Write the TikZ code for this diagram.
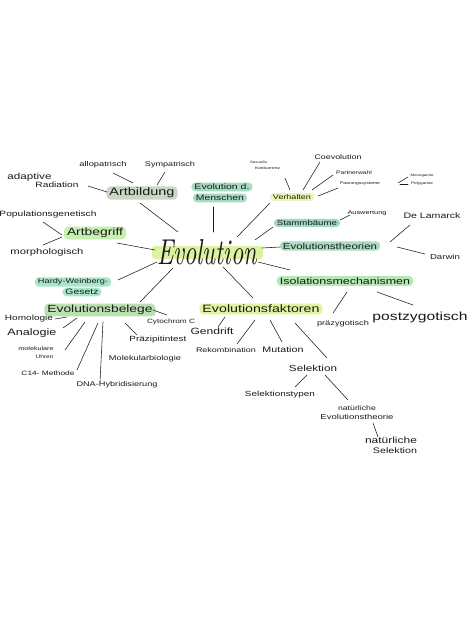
\documentclass[tikz,border=0pt]{standalone}
\usepackage{fontspec}
\usepackage{graphicx}
\newfontfamily\hand{Liberation Sans}
\usetikzlibrary{calc}
\newcommand\fw[2]{\resizebox{#1pt}{!}{\scalebox{1}[0.75]{#2}}}
\definecolor{ink}{HTML}{1A1A1A}
\definecolor{artbC}{HTML}{C9D8C2}
\definecolor{menC}{HTML}{A6DCC3}
\definecolor{verhC}{HTML}{EAF5B5}
\definecolor{stammC}{HTML}{9FD8C6}
\definecolor{theoC}{HTML}{ABDCC0}
\definecolor{isoC}{HTML}{B4E8B4}
\definecolor{faktC}{HTML}{E0F4A0}
\definecolor{artbegC}{HTML}{C6EFB0}
\definecolor{hardyC}{HTML}{A9E5CB}
\definecolor{belegeC}{HTML}{BCE0B2}
\definecolor{evoC}{HTML}{DDF2A0}
\begin{document}
\begin{tikzpicture}[x=1pt,y=-1pt,
  lbl/.style={font=\hand\fontsize{5}{6}\selectfont, text=ink, inner sep=1pt, align=center},
  hl/.style={lbl, rounded corners=4pt, inner xsep=3pt, inner ysep=1.5pt, fill=#1},
  ln/.style={draw=ink, line width=0.55pt, line cap=round}]
\fill[white] (0,0) rectangle (474,622);
\useasboundingbox (0,0) rectangle (474,622);

% central highlight band
\fill[evoC, rounded corners=3pt] (152,246) rectangle (263,259);
\node[inner sep=0pt, text=ink] (evo) at (207,252) {\resizebox{100pt}{25pt}{\itshape Evolution}};

% upper left
\node[hl=artbC] (artb) at (142,193) {\fw{65}{Artbildung}};
\node[lbl] (allo) at (103,165) {\fw{47}{allopatrisch}};
\node[lbl] (sym) at (170,165) {\fw{50}{Sympatrisch}};
\node[lbl, align=left] (adapt) at (43,180) {\fw{44}{adaptive}\\[-0.5pt]\hspace*{28pt}\fw{43}{Radiation}};

\node[hl=artbegC] (artbeg) at (95,233) {\fw{56}{Artbegriff}};
\node[lbl] (popgen) at (48,215) {\fw{97}{Populationsgenetisch}};
\node[lbl] (morph) at (47,252) {\fw{73}{morphologisch}};

% upper middle / right
\node[hl=menC] (menA) at (222,187) {\fw{55}{Evolution d.}};
\node[hl=menC] (menB) at (220,198) {\fw{48}{Menschen}};
\node[hl=verhC] (verh) at (292,197) {\fw{38}{Verhalten}};
\node[lbl, align=left] (sex) at (265,165) {\fw{17}{Sexuelle}\\\hspace*{5pt}\fw{25}{Konkurrenz}};
\node[lbl] (coev) at (338,157) {\fw{47}{Coevolution}};
\node[lbl] (partner) at (354,173) {\fw{36}{Partnerwahl}};
\node[lbl] (paar) at (360,184) {\fw{40}{Paarungssysteme}};
\node[lbl] (mono) at (422,176) {\fw{23}{Monogamie}};
\node[lbl] (poly) at (422,184) {\fw{22}{Polygamie}};
\node[hl=stammC] (stamm) at (307,223) {\fw{60}{Stammbäume}};
\node[lbl] (ausw) at (367,213) {\fw{39}{Auswertung}};
\node[hl=theoC] (theo) at (330,246) {\fw{94}{Evolutionstheorien}};
\node[lbl] (lamarck) at (432,216) {\fw{57}{De Lamarck}};
\node[lbl] (darwin) at (445,257) {\fw{30}{Darwin}};

% lower right
\node[hl=isoC] (iso) at (345,281) {\fw{130}{Isolationsmechanismen}};
\node[lbl] (prae) at (343,324) {\fw{52}{präzygotisch}};
\node[lbl] (post) at (420,317) {\fw{95}{postzygotisch}};
\node[hl=faktC] (fakt) at (261,309) {\fw{117}{Evolutionsfaktoren}};
\node[lbl] (gendrift) at (212,331) {\fw{43}{Gendrift}};
\node[lbl] (rekomb) at (226,350) {\fw{60}{Rekombination}};
\node[lbl] (mutation) at (283,350) {\fw{41}{Mutation}};
\node[lbl] (selektion) at (313,368) {\fw{48}{Selektion}};
\node[lbl] (seltyp) at (280,395) {\fw{70}{Selektionstypen}};
\node[lbl, font=\hand\fontsize{5}{9}\selectfont] (natevo) at (357,413) {\fw{38}{natürliche}\\\fw{73}{Evolutionstheorie}};
\node[lbl, align=right, font=\hand\fontsize{5}{10}\selectfont] (natsel) at (391,445) {\fw{52}{natürliche}\\\fw{44}{Selektion}};

% lower left
\node[hl=hardyC] (hardyA) at (73,282) {\fw{70}{Hardy-Weinberg-}};
\node[hl=hardyC] (hardyB) at (82,292) {\fw{33}{Gesetz}};
\node[hl=belegeC] (belege) at (100,310) {\fw{105}{Evolutionsbelege}};
\node[lbl] (cyto) at (171,322) {\fw{48}{Cytochrom C}};
\node[lbl] (homol) at (29,319) {\fw{48}{Homologie}};
\node[lbl] (analog) at (32,333) {\fw{49}{Analogie}};
\node[lbl, align=right, font=\hand\fontsize{5}{8}\selectfont] (uhren) at (36,353) {\fw{35}{molekulare}\\\fw{18}{Uhren}};
\node[lbl] (c14) at (48,373) {\fw{53}{C14- Methode}};
\node[lbl] (dna) at (117,385) {\fw{81}{DNA-Hybridisierung}};
\node[lbl] (molbio) at (145,359) {\fw{72}{Molekularbiologie}};
\node[lbl] (praez) at (158,340) {\fw{57}{Präzipitintest}};

% connectors
\draw[ln] ($(allo)+(10,8)$) -- ($(artb)+(-9,-10)$);
\draw[ln] ($(sym)+(-5,7)$) -- ($(artb)+(15,-8)$);
\draw[ln] ($(adapt)+(45,6)$) -- ($(artb)+(-35,-1)$);
\draw[ln] ($(artb)+(-2,10)$) -- ($(evo)+(-29,-20)$);
\draw[ln] ($(menB)+(-7,9)$) -- ($(evo)+(6,-20)$);
\draw[ln] ($(evo)+(30,-15)$) -- ($(verh)+(-22,6)$);
\draw[ln] ($(sex)+(20,13)$) -- ($(verh)+(-2,-7)$);
\draw[ln] ($(coev)+(-18,5)$) -- ($(verh)+(11,-7)$);
\draw[ln] ($(partner)+(-21,2)$) -- ($(verh)+(20,-7)$);
\draw[ln] ($(paar)+(-22,4)$) -- ($(verh)+(26,-1)$);
\draw[ln] ($(paar)+(38,-1)$) -- ($(mono)+(-14,1)$);
\draw[ln] ($(paar)+(40,0)$) -- ($(poly)+(-14,0)$);
\draw[ln] ($(evo)+(48,-12)$) -- ($(stamm)+(-34,4)$);
\draw[ln] ($(stamm)+(33,-3)$) -- ($(ausw)+(-17,2)$);
\draw[ln] ($(evo)+(55,-4)$) -- ($(theo)+(-50,1)$);
\draw[ln] ($(theo)+(60,-4)$) -- ($(lamarck)+(-22,9)$);
\draw[ln] ($(theo)+(67,1)$) -- ($(darwin)+(-20,-3)$);
\draw[ln] ($(evo)+(51,10)$) -- ($(iso)+(-55,-11)$);
\draw[ln] ($(iso)+(2,11)$) -- ($(prae)+(-10,-11)$);
\draw[ln] ($(iso)+(32,11)$) -- ($(post)+(-7,-12)$);
\draw[ln] ($(evo)+(16,15)$) -- ($(fakt)+(-8,-11)$);
\draw[ln] ($(fakt)+(-36,8)$) -- ($(gendrift)+(6,-4)$);
\draw[ln] ($(fakt)+(-6,11)$) -- ($(rekomb)+(11,-6)$);
\draw[ln] ($(fakt)+(9,11)$) -- ($(mutation)+(-1,-8)$);
\draw[ln] ($(fakt)+(34,14)$) -- ($(selektion)+(14,-10)$);
\draw[ln] ($(selektion)+(-6,7)$) -- ($(seltyp)+(15,-8)$);
\draw[ln] ($(selektion)+(12,7)$) -- ($(natevo)+(-9,-13)$);
\draw[ln] ($(natevo)+(16,10)$) -- ($(natsel)+(-13,-8)$);
\draw[ln] ($(popgen)+(-5,7)$) -- ($(artbeg)+(-33,2)$);
\draw[ln] ($(morph)+(-4,-7)$) -- ($(artbeg)+(-33,4)$);
\draw[ln] ($(artbeg)+(22,10)$) -- ($(evo)+(-52,-2)$);
\draw[ln] ($(evo)+(-50,10)$) -- ($(hardyA)+(45,-2)$);
\draw[ln] ($(evo)+(-34,16)$) -- ($(belege)+(40,-8)$);
\draw[ln] ($(belege)+(53,0)$) -- ($(cyto)+(-4,-7)$);
\draw[ln] ($(belege)+(-33,7)$) -- ($(homol)+(26,0)$);
\draw[ln] ($(belege)+(-23,8)$) -- ($(analog)+(31,-5)$);
\draw[ln] ($(belege)+(-15,12)$) -- ($(uhren)+(29,-3)$);
\draw[ln] ($(belege)+(-2,13)$) -- ($(c14)+(29,-3)$);
\draw[ln] ($(belege)+(3,12)$) -- ($(dna)+(-17,-3)$);
\draw[ln] ($(belege)+(25,13)$) -- ($(praez)+(-21,-5)$);
\end{tikzpicture}
\end{document}
